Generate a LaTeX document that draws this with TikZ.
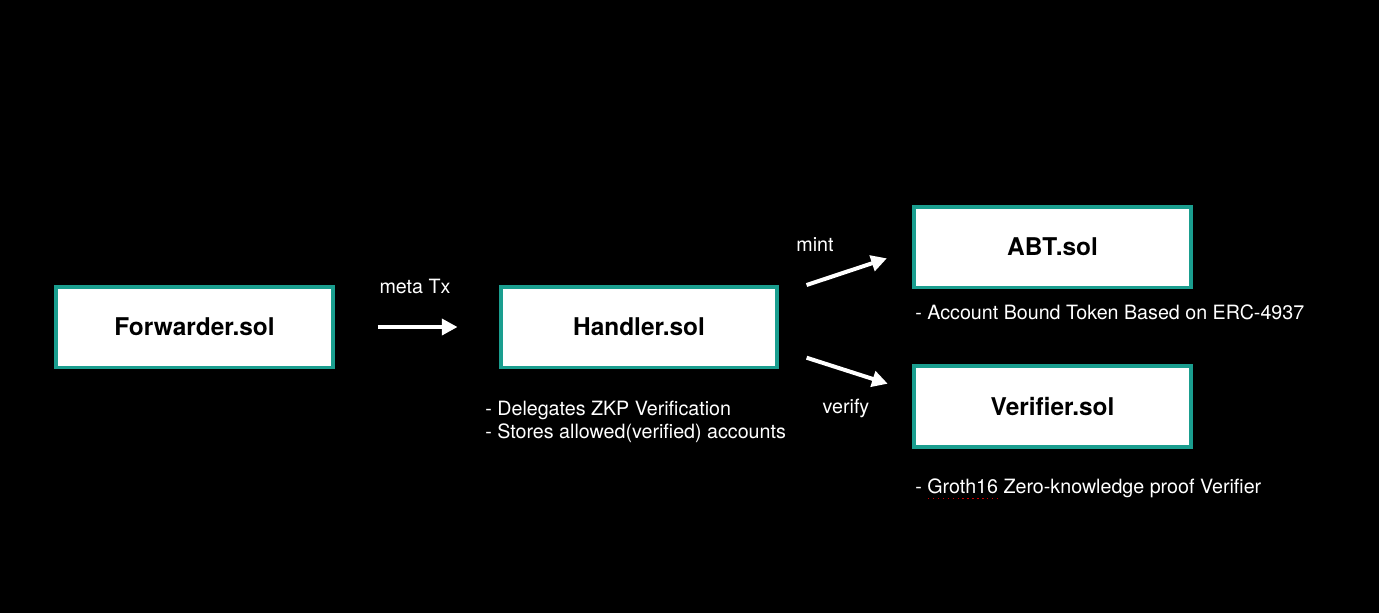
\documentclass[tikz,border=0pt]{standalone}
\usepackage{fontspec}
\setmainfont{TeX Gyre Heros}
\usepackage{tikz}
\usetikzlibrary{arrows.meta,calc}

\definecolor{teal}{HTML}{1A9E8F}

\tikzset{
	contract/.style={draw=teal, line width=2.27pt, fill=white, text=black,
		minimum width=5.54cm, minimum height=1.62cm, inner sep=0pt,
		font=\fontsize{13.9}{16}\selectfont\bfseries},
	call/.style={draw=white, line width=2.27pt,
		-{Triangle[length=8.9pt,width=9pt]}},
	tag/.style={text=white, font=\fontsize{11.2}{13}\selectfont, inner sep=0pt},
	note/.style={tag, anchor=west, align=left}
}

\begin{document}
\begin{tikzpicture}[x=0.02cm,y=-0.02cm]
	\fill[black] (0,0) rectangle (1379,613);
	\useasboundingbox (0,0) rectangle (1379,613);
	% contracts
	\node[contract] (forwarder) at (194.5,327) {Forwarder.sol};
	\node[contract] (handler) at (639,327) {Handler.sol};
	\node[contract] (abt) at (1052.5,247) {ABT.sol};
	\node[contract] (verifier) at (1052.5,406.5) {Verifier.sol};
	% calls
	\draw[call, shorten <=0.86cm, shorten >=0.82cm] (forwarder.east) -- (handler.west);
	\draw[call, shorten <=0.57cm, shorten >=0.53cm] ($(handler.east)+(0,-33)$) -- ($(abt.west)+(0,3)$);
	\draw[call, shorten <=0.57cm, shorten >=0.51cm] ($(handler.east)+(0,22)$) -- ($(verifier.west)+(0,-15)$);
	\node[tag] (metatx) at (415,286) {meta Tx};
	\node[tag] (mint) at (815,245) {mint};
	\node[tag] (verify) at (846,408) {verify};
	% notes
	\node[note] (handlernote) at (485,421.5) {- Delegates ZKP Verification\\- Stores allowed(verified) accounts};
	\node[note] (abtnote) at (915,312) {- Account Bound Token Based on ERC-4937};
	\node[note] (verifiernote) at (915,488) {- Groth16 Zero-knowledge proof Verifier};
	\draw[red!80!black, dotted, line width=0.8pt] ($(verifiernote.south west)+(13,0.5)$) -- ++(69,0);
\end{tikzpicture}
\end{document}
